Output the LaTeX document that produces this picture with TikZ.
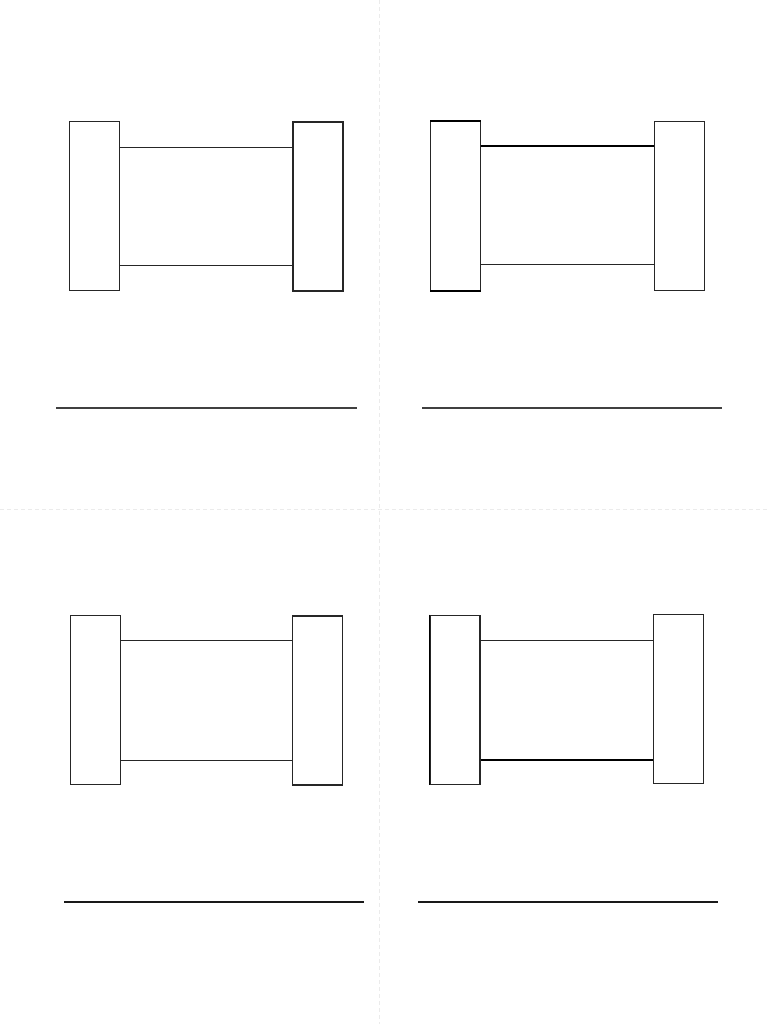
\documentclass[tikz,border=0pt]{standalone}
\begin{document}
\begin{tikzpicture}[x=1pt,y=-1pt,
  pillar/.style={draw=black!85,line width=1.1pt,rectangle,inner sep=0pt,minimum width=50pt,minimum height=169pt},
  boldpillar/.style={pillar,line width=1.8pt},
  rail/.style={draw=black!85,line width=1.1pt},
  boldrail/.style={draw=black,line width=1.9pt},
  base/.style={draw=black!75,line width=1.3pt},
  divider/.style={draw=black!8,line width=0.8pt,dash pattern=on 4pt off 3pt}]
\useasboundingbox (0,0) rectangle (768,1024);
% dividers
\coordinate (vt) at (379,0); \coordinate (vb) at (379,1024);
\coordinate (hl) at (0,509); \coordinate (hr) at (768,509);
\draw[divider] (vt) -- (vb);
\draw[divider] (hl) -- (hr);
% rail heights
\coordinate (y1t) at (0,147.3); \coordinate (y1b) at (0,265.7);
\coordinate (y2t) at (0,145.9); \coordinate (y2b) at (0,264.7);
\coordinate (y3t) at (0,640.7); \coordinate (y3b) at (0,760.3);
\coordinate (y4t) at (0,640.7); \coordinate (y4b) at (0,760.3);
% panel 1
\node[pillar] (L1) at (94.8,205.8) {};
\node[boldpillar] (R1) at (317.7,206.5) {};
\draw[rail] (L1.east |- y1t) -- (R1.west |- y1t);
\draw[rail] (L1.east |- y1b) -- (R1.west |- y1b);
\coordinate (b1a) at (56,408); \coordinate (b1b) at (357,408);
\draw[base] (b1a) -- (b1b);
% panel 2
\node[pillar] (L2) at (455.7,206.3) {};
\draw[boldrail] (L2.north west) -- (L2.north east);
\draw[boldrail] (L2.south west) -- (L2.south east);
\node[pillar] (R2) at (679.3,205.6) {};
\draw[boldrail] (L2.east |- y2t) -- (R2.west |- y2t);
\draw[rail] (L2.east |- y2b) -- (R2.west |- y2b);
\coordinate (b2a) at (422,408); \coordinate (b2b) at (722,408);
\draw[base] (b2a) -- (b2b);
% panel 3
\node[pillar] (L3) at (95.2,700) {};
\node[boldpillar] (R3) at (317.5,700.3) {};
\draw[rail] (L3.east |- y3t) -- (R3.west |- y3t);
\draw[rail] (L3.east |- y3b) -- (R3.west |- y3b);
\coordinate (b3a) at (64,902); \coordinate (b3b) at (364,902);
\draw[base,draw=black!90] (b3a) -- (b3b);
% panel 4
\node[pillar] (L4) at (455,699.7) {};
\draw[boldrail] (L4.north west) -- (L4.south west);
\node[pillar] (R4) at (678.7,699) {};
\draw[rail] (L4.east |- y4t) -- (R4.west |- y4t);
\draw[boldrail] (L4.east |- y4b) -- (R4.west |- y4b);
\coordinate (b4a) at (418,902); \coordinate (b4b) at (718,902);
\draw[base,draw=black!90] (b4a) -- (b4b);
\end{tikzpicture}
\end{document}
